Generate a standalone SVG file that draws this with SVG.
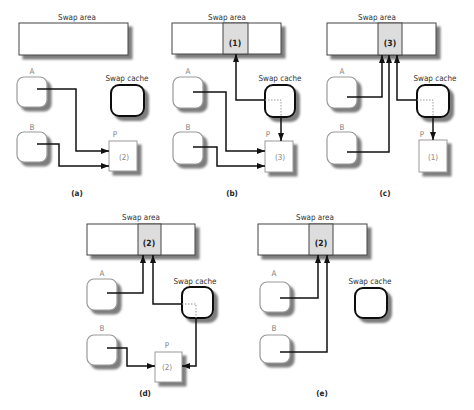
<svg xmlns="http://www.w3.org/2000/svg" width="474" height="410" viewBox="0 0 474 410">
<style>
text{font-family:"DejaVu Sans Condensed","Liberation Sans Narrow","Liberation Sans",sans-serif;font-size:8px;text-anchor:middle;text-rendering:geometricPrecision}
.t{fill:#333}
.g{fill:#888}
.cap{fill:#222;font-weight:bold}
.sa{fill:#fff;stroke:#444;stroke-width:1}
.cell{fill:#ddd;stroke:#444;stroke-width:1}
.proc{fill:#fff;stroke:#999;stroke-width:1.2}
.sc{fill:#fff;stroke:#111;stroke-width:2}
.pg{fill:#fff;stroke:#999;stroke-width:1}
.num{fill:#222;font-weight:bold;font-size:8.5px}
.c{fill:none;stroke:#111;stroke-width:1.5;marker-end:url(#ah)}
.dot{fill:none;stroke:#999;stroke-width:1;stroke-dasharray:1.5 1.5}
</style>
<defs>
<filter id="sh" x="-30%" y="-30%" width="160%" height="160%">
<feGaussianBlur in="SourceAlpha" stdDeviation="1.3"/>
<feOffset dx="3.5" dy="3.5" result="b"/>
<feFlood flood-color="#666" flood-opacity="0.85"/>
<feComposite in2="b" operator="in" result="s"/>
<feMerge><feMergeNode in="s"/><feMergeNode in="SourceGraphic"/></feMerge>
</filter>
<marker id="ah" viewBox="0 0 8 6" refX="8" refY="3" markerWidth="8" markerHeight="6" markerUnits="userSpaceOnUse" orient="auto">
<path d="M0,0 L8,3 L0,6 Z" fill="#111"/>
</marker>
</defs>

<!-- Panel (a) -->
<g id="a-swaparea"><text class="t" x="77" y="20">Swap area</text><rect class="sa" x="19" y="23" width="109" height="32" filter="url(#sh)"/></g>
<g id="a-A"><text class="g" x="32" y="74">A</text><rect class="proc" x="17" y="77" width="30" height="30" rx="7" filter="url(#sh)"/></g>
<g id="a-B"><text class="g" x="32" y="130">B</text><rect class="proc" x="17" y="132" width="30" height="30" rx="7" filter="url(#sh)"/></g>
<g id="a-cache"><text class="t" x="127" y="81">Swap cache</text><rect class="sc" x="111" y="85" width="33" height="31" rx="8" filter="url(#sh)"/></g>
<g id="a-P"><text class="g" x="115" y="137">P</text><rect class="pg" x="109" y="141" width="28" height="30" filter="url(#sh)"/><text class="g" x="124" y="160">(2)</text></g>
<text class="cap" x="77" y="196">(a)</text>

<!-- Panel (b) -->
<g id="b-swaparea"><text class="t" x="227" y="20">Swap area</text><rect class="sa" x="172" y="23" width="109" height="31" filter="url(#sh)"/><rect class="cell" x="223" y="23" width="25" height="31"/><text class="num" x="235" y="46">(1)</text></g>
<g id="b-A"><text class="g" x="188" y="74">A</text><rect class="proc" x="173" y="77" width="30" height="31" rx="7" filter="url(#sh)"/></g>
<g id="b-B"><text class="g" x="188" y="130">B</text><rect class="proc" x="173" y="132" width="30" height="32" rx="7" filter="url(#sh)"/></g>
<g id="b-cache"><text class="t" x="280" y="81">Swap cache</text><rect class="sc" x="265" y="85" width="30" height="32" rx="8" filter="url(#sh)"/></g>
<g id="b-P"><text class="g" x="268" y="137">P</text><rect class="pg" x="265" y="141" width="28" height="31" filter="url(#sh)"/><text class="g" x="280" y="160">(3)</text></g>
<text class="cap" x="232" y="196">(b)</text>

<!-- Panel (c) -->
<g id="c-swaparea"><text class="t" x="377" y="20">Swap area</text><rect class="sa" x="327" y="23" width="109" height="32" filter="url(#sh)"/><rect class="cell" x="378" y="23" width="24" height="32"/><text class="num" x="390" y="46">(3)</text></g>
<g id="c-A"><text class="g" x="342" y="74">A</text><rect class="proc" x="327" y="77" width="30" height="31" rx="7" filter="url(#sh)"/></g>
<g id="c-B"><text class="g" x="342" y="130">B</text><rect class="proc" x="327" y="132" width="30" height="32" rx="7" filter="url(#sh)"/></g>
<g id="c-cache"><text class="t" x="435" y="81">Swap cache</text><rect class="sc" x="417" y="85" width="32" height="32" rx="8" filter="url(#sh)"/></g>
<g id="c-P"><text class="g" x="422" y="137">P</text><rect class="pg" x="419" y="140" width="28" height="32" filter="url(#sh)"/><text class="g" x="433" y="160">(1)</text></g>
<text class="cap" x="385" y="196">(c)</text>

<!-- Panel (d) -->
<g id="d-swaparea"><text class="t" x="141" y="220">Swap area</text><rect class="sa" x="87" y="224" width="108" height="31" filter="url(#sh)"/><rect class="cell" x="138" y="224" width="23" height="31"/><text class="num" x="149" y="246">(2)</text></g>
<g id="d-A"><text class="g" x="102" y="276">A</text><rect class="proc" x="87" y="279" width="30" height="31" rx="7" filter="url(#sh)"/></g>
<g id="d-B"><text class="g" x="102" y="331">B</text><rect class="proc" x="87" y="335" width="30" height="30" rx="7" filter="url(#sh)"/></g>
<g id="d-cache"><text class="t" x="195" y="284">Swap cache</text><rect class="sc" x="182" y="287" width="31" height="31" rx="8" filter="url(#sh)"/></g>
<g id="d-P"><text class="g" x="167" y="348">P</text><rect class="pg" x="155" y="352" width="27" height="30" filter="url(#sh)"/><text class="g" x="167" y="370">(2)</text></g>
<text class="cap" x="145" y="396">(d)</text>

<!-- Panel (e) -->
<g id="e-swaparea"><text class="t" x="315" y="220">Swap area</text><rect class="sa" x="258" y="224" width="109" height="31" filter="url(#sh)"/><rect class="cell" x="309" y="224" width="24" height="31"/><text class="num" x="321" y="246">(2)</text></g>
<g id="e-A"><text class="g" x="274" y="276">A</text><rect class="proc" x="260" y="282" width="30" height="30" rx="7" filter="url(#sh)"/></g>
<g id="e-B"><text class="g" x="274" y="331">B</text><rect class="proc" x="260" y="335" width="30" height="28" rx="7" filter="url(#sh)"/></g>
<g id="e-cache"><text class="t" x="370" y="284">Swap cache</text><rect class="sc" x="355" y="288" width="32" height="30" rx="8" filter="url(#sh)"/></g>
<text class="cap" x="322" y="396">(e)</text>

<!-- Connectors -->
<g id="connectors">
<path class="c" d="M37,89 H76 V151 H109"/>
<path class="c" d="M37,144 H59 V166 H109"/>

<path class="c" d="M193,92 H226 V151 H265"/>
<path class="c" d="M193,147 H217 V166 H265"/>
<path class="dot" d="M265,100 H281 V117"/>
<path class="c" d="M265,100 H236 V54"/>
<path class="c" d="M281,117 V141"/>

<path class="c" d="M347,97 H382 V55"/>
<path class="c" d="M347,152 H389 V55"/>
<path class="dot" d="M417,100 H433 V117"/>
<path class="c" d="M417,100 H397 V55"/>
<path class="c" d="M433,117 V140"/>

<path class="c" d="M107,293 H143 V255"/>
<path class="dot" d="M182,304 H196 V318"/>
<path class="c" d="M182,304 H153 V255"/>
<path class="c" d="M107,348 H127 V366 H155"/>
<path class="c" d="M196,318 V366 H182"/>

<path class="c" d="M280,298 H318 V255"/>
<path class="c" d="M280,352 H327 V255"/>
</g>
</svg>
